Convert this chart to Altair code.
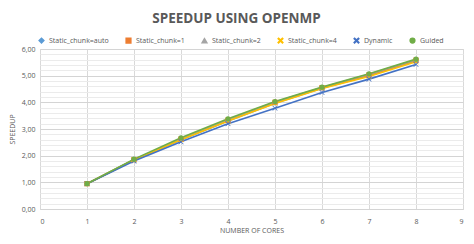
import altair as alt
import pandas as pd

cores = [1, 2, 3, 4, 5, 6, 7, 8]
series_names = ["Static_chunk=auto", "Static_chunk=1", "Static_chunk=2",
                "Static_chunk=4", "Dynamic", "Guided"]
auto_v = [0.95, 1.84, 2.60, 3.30, 3.97, 4.53, 5.00, 5.55]
chunk1_v = [0.95, 1.85, 2.62, 3.33, 4.00, 4.55, 5.03, 5.58]
chunk2_v = [0.95, 1.85, 2.63, 3.35, 4.01, 4.56, 5.05, 5.60]
chunk4_v = [0.95, 1.84, 2.60, 3.30, 3.96, 4.52, 4.97, 5.52]
dynamic_v = [0.95, 1.80, 2.52, 3.20, 3.78, 4.37, 4.87, 5.42]
guided_v = [0.95, 1.87, 2.67, 3.38, 4.03, 4.57, 5.07, 5.62]

x_ticks = [0, 1, 2, 3, 4, 5, 6, 7, 8, 9]
y_ticks = [round(i * 0.2, 1) for i in range(31)]

colors = ["#5B9BD5", "#ED7D31", "#A5A5A5", "#FFC000", "#4472C4", "#70AD47"]
xshape = "M-1,-0.8L-0.8,-1L0,-0.2L0.8,-1L1,-0.8L0.2,0L1,0.8L0.8,1L0,0.2L-0.8,1L-1,0.8L-0.2,0Z"
shapes = ["diamond", "square", "triangle-up", xshape, xshape, "circle"]

rows = []
for name, vals in zip(series_names, [auto_v, chunk1_v, chunk2_v, chunk4_v, dynamic_v, guided_v]):
    for c, v in zip(cores, vals):
        rows.append({"cores": c, "speedup": v, "series": name})
df = pd.DataFrame(rows)

grid_test = "abs(datum.value - round(datum.value)) < 0.001"

x = alt.X("cores:Q", scale=alt.Scale(domain=[0, 9], nice=False),
          axis=alt.Axis(title="NUMBER OF CORES", values=x_ticks, format="d",
                        labelOverlap=False, gridColor="#D9D9D9",
                        labelPadding=8, titlePadding=2))
y = alt.Y("speedup:Q", scale=alt.Scale(domain=[0, 6], nice=False),
          axis=alt.Axis(title="SPEEDUP", values=y_ticks, labelOverlap=False,
                        labelPadding=5, titlePadding=6,
                        labelExpr=f"({grid_test}) ? replace(format(datum.value, '.2f'), '.', ',') : ''",
                        gridColor={"condition": {"test": grid_test, "value": "#D4D4D4"}, "value": "#EBEBEB"}))
leg = dict(title=None, orient="none", direction="horizontal",
           legendX=-2, legendY=-12, columns=6, columnPadding=14, labelFontSize=7,
           labelColor="#595959", symbolSize=22, labelFont="Open Sans")
color = alt.Color("series:N", scale=alt.Scale(domain=series_names, range=colors),
                  legend=alt.Legend(**leg))
shape = alt.Shape("series:N", scale=alt.Scale(domain=series_names, range=shapes),
                  legend=alt.Legend(**leg))

base = alt.Chart(df)
lines = base.mark_line(strokeWidth=1.6).encode(x=x, y=y, color=color,
                                                 detail="series:N", order="cores:Q")
points = base.mark_point(filled=True, size=28, opacity=1).encode(x=x, y=y, color=color, shape=shape)

chart = alt.layer(lines, points).properties(
    width=423, height=160,
    title=alt.TitleParams("SPEEDUP USING OPENMP", fontSize=13.5, font="Open Sans",
                          fontWeight="bold", color="#595959", anchor="middle",
                          dx=-15, offset=12),
    autosize=alt.AutoSizeParams(type="none"),
    padding={"left": 40, "top": 49, "right": 11, "bottom": 35},
).configure_axis(
    labelFont="Open Sans", labelFontSize=7, labelColor="#595959",
    titleFont="Open Sans", titleFontSize=7, titleColor="#595959",
    titleFontWeight="normal", ticks=False, domain=False,
).configure_view(stroke="#D9D9D9")

chart.save("out.html", embed_options={"renderer": "svg", "actions": False})
